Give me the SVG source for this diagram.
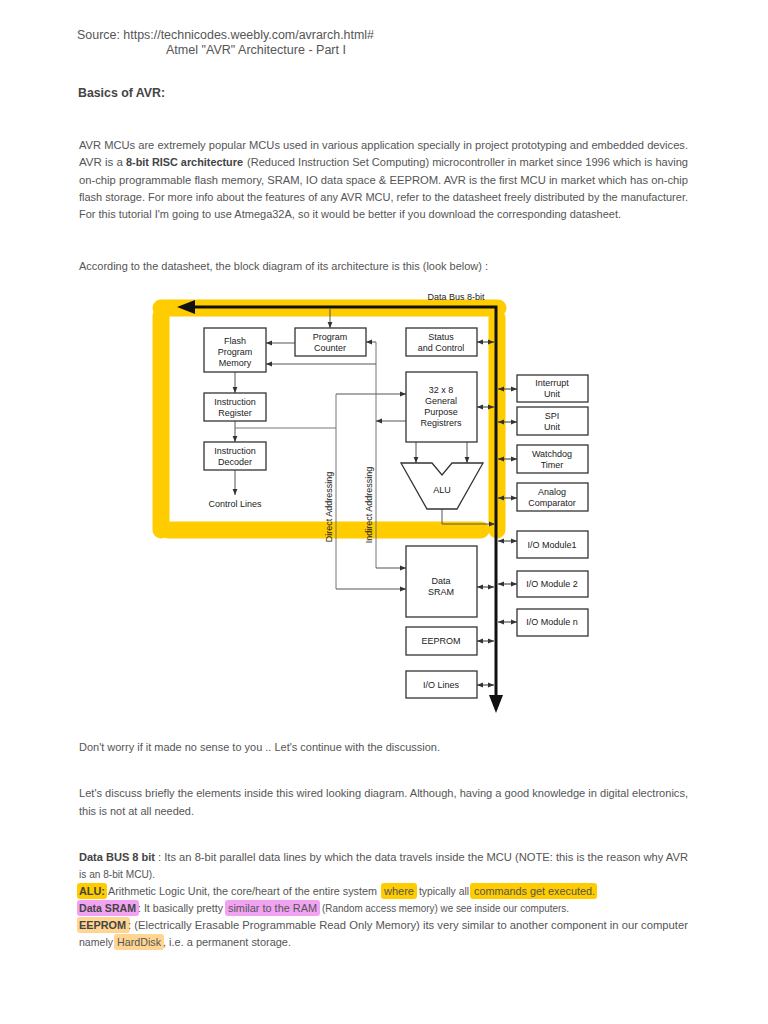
<svg xmlns="http://www.w3.org/2000/svg" width="768" height="1024" viewBox="0 0 768 1024">
<style>
.body{font-family:"Liberation Sans",Arial,sans-serif;font-size:11.5px;fill:#555}
.b{font-weight:bold;fill:#444}
.box{fill:#fff;stroke:#333;stroke-width:1.3}
.lbl{font-family:"Liberation Sans",Arial,sans-serif;font-size:9px;fill:#222;text-anchor:middle}
.thin{fill:none;stroke:#777;stroke-width:1}
.dbl{fill:none;stroke:#333;stroke-width:1;marker-start:url(#sa);marker-end:url(#sa)}
.one{fill:none;stroke:#555;stroke-width:1;marker-end:url(#sa)}
.yel{stroke:#FFCC00;stroke-width:17;stroke-linecap:round;fill:none}
</style>
<defs>
<marker id="sa" viewBox="0 0 10 10" refX="10" refY="5" markerWidth="6" markerHeight="6" markerUnits="userSpaceOnUse" orient="auto-start-reverse"><path d="M0,1 L10,5 L0,9 z" fill="#333"/></marker>
<marker id="big" viewBox="0 0 18 14" refX="0" refY="7" markerWidth="18" markerHeight="14" markerUnits="userSpaceOnUse" orient="auto-start-reverse"><path d="M0,0 L18,7 L0,14 z" fill="#111"/></marker>
</defs>
<rect width="768" height="1024" fill="#fff"/>

<g id="header">
<text class="body" x="77" y="39" style="font-size:12px" textLength="297" lengthAdjust="spacingAndGlyphs">Source: https://technicodes.weebly.com/avrarch.html#</text>
<text class="body" x="166" y="54" style="font-size:12px" textLength="180" lengthAdjust="spacingAndGlyphs">Atmel "AVR" Architecture - Part I</text>
<text class="body b" x="78" y="97" style="font-size:12.5px" textLength="87" lengthAdjust="spacingAndGlyphs">Basics of AVR:</text>
</g>

<g id="intro">
<text class="body" x="79" y="149" textLength="609" lengthAdjust="spacingAndGlyphs">AVR MCUs are extremely popular MCUs used in various application specially in project prototyping and embedded devices.</text>
<text class="body" x="79" y="166" textLength="44" lengthAdjust="spacingAndGlyphs">AVR is a</text>
<text class="body b" x="126" y="166" textLength="117" lengthAdjust="spacingAndGlyphs">8-bit RISC architecture</text>
<text class="body" x="247" y="166" textLength="441" lengthAdjust="spacingAndGlyphs">(Reduced Instruction Set Computing) microcontroller in market since 1996 which is having</text>
<text class="body" x="79" y="184" textLength="609" lengthAdjust="spacingAndGlyphs">on-chip programmable flash memory, SRAM, IO data space &amp; EEPROM. AVR is the first MCU in market which has on-chip</text>
<text class="body" x="79" y="201" textLength="609" lengthAdjust="spacingAndGlyphs">flash storage. For more info about the features of any AVR MCU, refer to the datasheet freely distributed by the manufacturer.</text>
<text class="body" x="79" y="218" textLength="542" lengthAdjust="spacingAndGlyphs">For this tutorial I'm going to use Atmega32A, so it would be better if you download the corresponding datasheet.</text>
<text class="body" x="79" y="270" textLength="409" lengthAdjust="spacingAndGlyphs">According to the datasheet, the block diagram of its architecture is this (look below) :</text>
</g>

<g id="frame">
<line class="yel" x1="161" y1="308" x2="498" y2="308"/>
<line class="yel" x1="161" y1="316" x2="161" y2="530"/>
<line class="yel" x1="168" y1="530" x2="481" y2="530"/>
<line class="yel" x1="497" y1="318" x2="497" y2="530"/>
</g>

<g id="connectors">
<path d="M195,307 L496,307 L496,695" fill="none" stroke="#111" stroke-width="3" marker-start="url(#big)" marker-end="url(#big)"/>
<line class="one" x1="330" y1="309" x2="330" y2="328"/>
<line class="one" x1="295" y1="343" x2="266" y2="343"/>
<line class="one" x1="235" y1="372" x2="235" y2="393"/>
<line class="one" x1="235" y1="421" x2="235" y2="442"/>
<line class="one" x1="235" y1="470" x2="235" y2="495"/>
<path class="thin" d="M235,428 L336,428"/>
<path class="thin" d="M336,394 L336,589"/>
<line class="one" x1="336" y1="394" x2="406" y2="394"/>
<line class="one" x1="336" y1="589" x2="406" y2="589"/>
<path class="thin" d="M376,342 L376,568"/>
<line class="one" x1="376" y1="342" x2="366" y2="342"/>
<line class="one" x1="376" y1="364" x2="266" y2="364"/>
<line class="one" x1="406" y1="421" x2="376" y2="421"/>
<line class="one" x1="376" y1="568" x2="406" y2="568"/>
<line class="one" x1="416" y1="442" x2="416" y2="463"/>
<line class="one" x1="467" y1="442" x2="467" y2="463"/>
<path d="M442,509 L442,524 L495,524" fill="none" stroke="#555" stroke-width="1" marker-end="url(#sa)"/>
<line class="dbl" x1="477" y1="342" x2="494" y2="342"/>
<line class="dbl" x1="477" y1="407" x2="494" y2="407"/>
<line class="dbl" x1="477" y1="587" x2="494" y2="587"/>
<line class="dbl" x1="477" y1="641" x2="494" y2="641"/>
<line class="dbl" x1="477" y1="685" x2="494" y2="685"/>
<line class="dbl" x1="498" y1="389" x2="517" y2="389"/>
<line class="dbl" x1="498" y1="422" x2="517" y2="422"/>
<line class="dbl" x1="498" y1="459" x2="517" y2="459"/>
<line class="dbl" x1="498" y1="498" x2="517" y2="498"/>
<line class="dbl" x1="498" y1="541" x2="517" y2="541"/>
<line class="dbl" x1="498" y1="584" x2="517" y2="584"/>
<line class="dbl" x1="498" y1="622" x2="517" y2="622"/>
<text class="lbl" x="456" y="300">Data Bus 8-bit</text>
<text class="lbl" x="235" y="507">Control Lines</text>
<text class="lbl" transform="translate(332,507) rotate(-90)">Direct Addressing</text>
<text class="lbl" transform="translate(372,505) rotate(-90)">Indirect Addressing</text>
</g>

<g id="flash"><rect class="box" x="204" y="328" width="62" height="44"/><text class="lbl" x="235" y="344">Flash</text><text class="lbl" x="235" y="355">Program</text><text class="lbl" x="235" y="366">Memory</text></g>
<g id="pc"><rect class="box" x="295" y="328" width="71" height="28"/><text class="lbl" x="330" y="340">Program</text><text class="lbl" x="330" y="351">Counter</text></g>
<g id="ir"><rect class="box" x="204" y="393" width="62" height="28"/><text class="lbl" x="235" y="405">Instruction</text><text class="lbl" x="235" y="416">Register</text></g>
<g id="id"><rect class="box" x="204" y="442" width="62" height="28"/><text class="lbl" x="235" y="454">Instruction</text><text class="lbl" x="235" y="465">Decoder</text></g>
<g id="status"><rect class="box" x="406" y="328" width="71" height="28"/><text class="lbl" x="441" y="340">Status</text><text class="lbl" x="441" y="351">and Control</text></g>
<g id="gpr"><rect class="box" x="406" y="372" width="71" height="70"/><text class="lbl" x="441" y="393">32 x 8</text><text class="lbl" x="441" y="404">General</text><text class="lbl" x="441" y="415">Purpose</text><text class="lbl" x="441" y="426">Registrers</text></g>
<g id="alu"><path class="box" d="M401,463 L432,463 L442,475 L452,463 L483,463 L457,509 L427,509 Z"/><text class="lbl" x="442" y="493">ALU</text></g>
<g id="sram"><rect class="box" x="406" y="546" width="71" height="71"/><text class="lbl" x="441" y="584">Data</text><text class="lbl" x="441" y="595">SRAM</text></g>
<g id="eeprom"><rect class="box" x="406" y="627" width="71" height="28"/><text class="lbl" x="441" y="644">EEPROM</text></g>
<g id="iolines"><rect class="box" x="406" y="671" width="71" height="27"/><text class="lbl" x="441" y="688">I/O Lines</text></g>
<g id="interrupt"><rect class="box" x="517" y="375" width="71" height="27"/><text class="lbl" x="552" y="386">Interrupt</text><text class="lbl" x="552" y="397">Unit</text></g>
<g id="spi"><rect class="box" x="517" y="407" width="71" height="28"/><text class="lbl" x="552" y="419">SPI</text><text class="lbl" x="552" y="430">Unit</text></g>
<g id="watchdog"><rect class="box" x="517" y="445" width="71" height="28"/><text class="lbl" x="552" y="457">Watchdog</text><text class="lbl" x="552" y="468">Timer</text></g>
<g id="analog"><rect class="box" x="517" y="483" width="71" height="28"/><text class="lbl" x="552" y="495">Analog</text><text class="lbl" x="552" y="506">Comparator</text></g>
<g id="io1"><rect class="box" x="517" y="531" width="71" height="27"/><text class="lbl" x="552" y="548">I/O Module1</text></g>
<g id="io2"><rect class="box" x="517" y="571" width="71" height="26"/><text class="lbl" x="552" y="587">I/O Module 2</text></g>
<g id="ion"><rect class="box" x="517" y="609" width="71" height="27"/><text class="lbl" x="552" y="625">I/O Module n</text></g>

<g id="discussion">
<text class="body" x="79" y="751" textLength="361" lengthAdjust="spacingAndGlyphs">Don't worry if it made no sense to you .. Let's continue with the discussion.</text>
<text class="body" x="79" y="797" textLength="609" lengthAdjust="spacingAndGlyphs">Let's discuss briefly the elements inside this wired looking diagram. Although, having a good knowledge in digital electronics,</text>
<text class="body" x="79" y="815" textLength="115" lengthAdjust="spacingAndGlyphs">this is not at all needed.</text>
</g>

<g id="highlights">
<rect x="77" y="883" width="30" height="16" rx="3" fill="#FFCC00"/>
<rect x="381" y="883" width="36" height="16" rx="3" fill="#FFCC00"/>
<rect x="470" y="883" width="127" height="16" rx="3" fill="#FFCC00"/>
<rect x="77" y="900" width="62" height="16" rx="3" fill="#F2A2F2"/>
<rect x="225" y="900" width="95" height="16" rx="3" fill="#F2A2F2"/>
<rect x="77" y="917" width="53" height="16" rx="3" fill="#FFD591"/>
<rect x="114" y="934" width="50" height="16" rx="3" fill="#FFD591"/>
</g>

<g id="details">
<text class="body b" x="79" y="861" textLength="76" lengthAdjust="spacingAndGlyphs">Data BUS 8 bit</text>
<text class="body" x="158" y="861" textLength="530" lengthAdjust="spacingAndGlyphs">: Its an 8-bit parallel data lines by which the data travels inside the MCU (NOTE: this is the reason why AVR</text>
<text class="body" x="79" y="878" textLength="76" lengthAdjust="spacingAndGlyphs">is an 8-bit MCU).</text>
<text class="body b" x="79" y="895" textLength="26" lengthAdjust="spacingAndGlyphs">ALU:</text>
<text class="body" x="108" y="895" style="font-size:10.7px" textLength="269" lengthAdjust="spacingAndGlyphs">Arithmetic Logic Unit, the core/heart of the entire system</text>
<text class="body" x="384" y="895" textLength="30" lengthAdjust="spacingAndGlyphs">where</text>
<text class="body" x="419" y="895" style="font-size:11px" textLength="50" lengthAdjust="spacingAndGlyphs">typically all</text>
<text class="body" x="474" y="895" textLength="121" lengthAdjust="spacingAndGlyphs">commands get executed.</text>
<text class="body b" x="79" y="912" textLength="57" lengthAdjust="spacingAndGlyphs">Data SRAM</text>
<text class="body" x="138" y="912" textLength="85" lengthAdjust="spacingAndGlyphs">: It basically pretty</text>
<text class="body" x="228" y="912" textLength="89" lengthAdjust="spacingAndGlyphs">similar to the RAM</text>
<text class="body" x="322" y="912" style="font-size:10.5px" textLength="247" lengthAdjust="spacingAndGlyphs">(Random access memory) we see inside our computers.</text>
<text class="body b" x="79" y="929" textLength="47" lengthAdjust="spacingAndGlyphs">EEPROM</text>
<text class="body" x="128" y="929" textLength="560" lengthAdjust="spacingAndGlyphs">:  (Electrically Erasable Programmable Read Only Memory) its very similar to another component in our computer</text>
<text class="body" x="79" y="946" textLength="34" lengthAdjust="spacingAndGlyphs">namely</text>
<text class="body" x="117" y="946" textLength="44" lengthAdjust="spacingAndGlyphs">HardDisk</text>
<text class="body" x="163" y="946" textLength="128" lengthAdjust="spacingAndGlyphs">, i.e. a permanent storage.</text>
</g>
</svg>
